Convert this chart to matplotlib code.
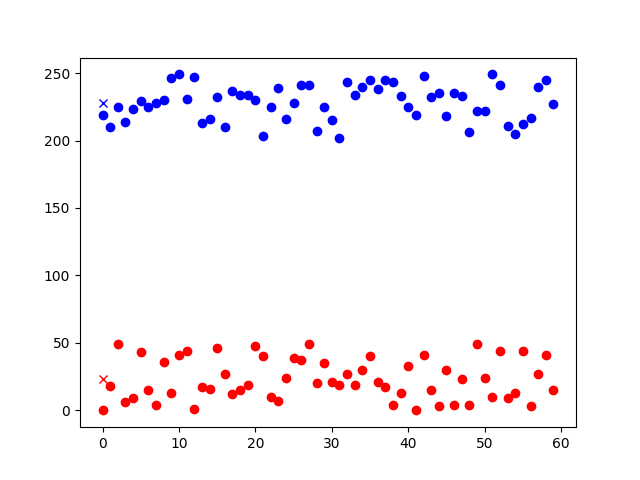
import matplotlib
matplotlib.use('Agg')
import matplotlib.pyplot as plt

# Values
x_values = list(range(60))
blue_values = [219, 210, 225, 214, 223, 229, 225, 228, 230, 246,
               249, 231, 247, 213, 216, 232, 210, 237, 234, 234,
               230, 203, 225, 239, 216, 228, 241, 241, 207, 225,
               215, 202, 243, 234, 240, 245, 238, 245, 243, 233,
               225, 219, 248, 232, 235, 218, 235, 233, 206, 222,
               222, 249, 241, 211, 205, 212, 217, 240, 245, 227]
red_values = [0, 18, 49, 6, 9, 43, 15, 4, 36, 13,
              41, 44, 1, 17, 16, 46, 27, 12, 15, 19,
              48, 40, 10, 7, 24, 39, 37, 49, 20, 35,
              21, 19, 27, 19, 30, 40, 21, 17, 4, 13,
              33, 0, 41, 15, 3, 30, 4, 23, 4, 49,
              24, 10, 44, 9, 13, 44, 3, 27, 41, 15]
blue_marker = 228
red_marker = 23

fig, ax = plt.subplots(figsize=(6.4, 4.8), dpi=100)
ax.scatter(x_values, blue_values, marker='o', color='blue')
ax.scatter(x_values, red_values, marker='o', color='red')
ax.plot([0], [blue_marker], 'bx')
ax.plot([0], [red_marker], 'rx')
plt.savefig('out.png')
